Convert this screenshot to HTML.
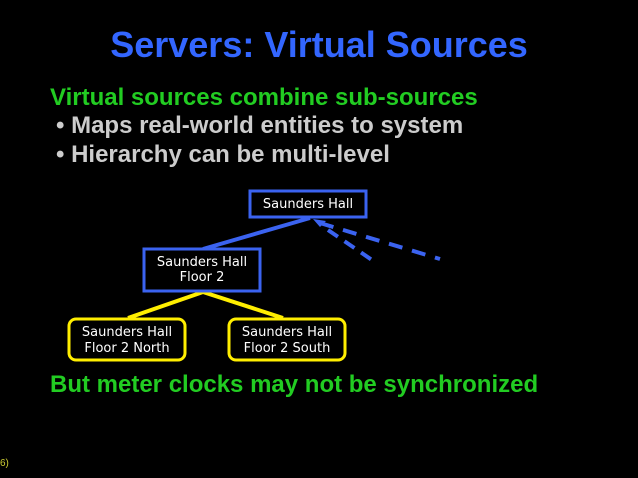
<!DOCTYPE html>
<html><head><style>
body{margin:0;width:638px;height:478px;background:#000;overflow:hidden;position:relative;font-family:"Liberation Sans",sans-serif;font-weight:bold}
.t{position:absolute;white-space:nowrap}
</style></head><body>
<div class="t" style="left:0;width:638px;text-align:center;top:24px;font-size:36px;color:#3366ff">Servers: Virtual Sources</div>
<div class="t" style="left:50px;top:84px;font-size:24px;color:#22cc22">Virtual sources combine sub-sources</div>
<div class="t" style="left:56px;top:112px;font-size:24px;color:#cccccc">• Maps real-world entities to system</div>
<div class="t" style="left:56px;top:141px;font-size:24px;color:#cccccc">• Hierarchy can be multi-level</div>
<div class="t" style="left:50px;top:371px;font-size:24px;color:#22cc22">But meter clocks may not be synchronized</div>
<div class="t" style="left:0;top:458px;font-size:10px;color:#cccc33;font-weight:normal">6)</div>
<svg width="638" height="478" style="position:absolute;left:0;top:0" font-family="'DejaVu Sans',sans-serif" font-weight="normal" font-size="13" fill="#fff" text-anchor="middle">
<line x1="310" y1="218" x2="203" y2="249" stroke="#3b63f0" stroke-width="4"/>
<line x1="320" y1="223" x2="440" y2="259" stroke="#3b63f0" stroke-width="4" stroke-dasharray="14,10"/>
<line x1="328" y1="230" x2="372" y2="260" stroke="#3b63f0" stroke-width="4" stroke-dasharray="12,8"/>
<polygon points="313,219 326,221 320,227" fill="#3b63f0"/>
<line x1="203" y1="292" x2="128" y2="318" stroke="#ffee00" stroke-width="4"/>
<line x1="203" y1="292" x2="283" y2="318" stroke="#ffee00" stroke-width="4"/>
<rect x="250" y="191" width="116" height="26" fill="#000" stroke="#3b63f0" stroke-width="3"/>
<text x="308" y="208">Saunders Hall</text>
<rect x="144" y="249" width="116" height="42" fill="#000" stroke="#3b63f0" stroke-width="3"/>
<text x="202" y="266">Saunders Hall</text><text x="202" y="281">Floor 2</text>
<rect x="69" y="319" width="116" height="41" rx="7" fill="#000" stroke="#ffee00" stroke-width="3"/>
<text x="127" y="336">Saunders Hall</text><text x="127" y="352">Floor 2 North</text>
<rect x="229" y="319" width="116" height="41" rx="7" fill="#000" stroke="#ffee00" stroke-width="3"/>
<text x="287" y="336">Saunders Hall</text><text x="287" y="352">Floor 2 South</text>
</svg>
</body></html>
